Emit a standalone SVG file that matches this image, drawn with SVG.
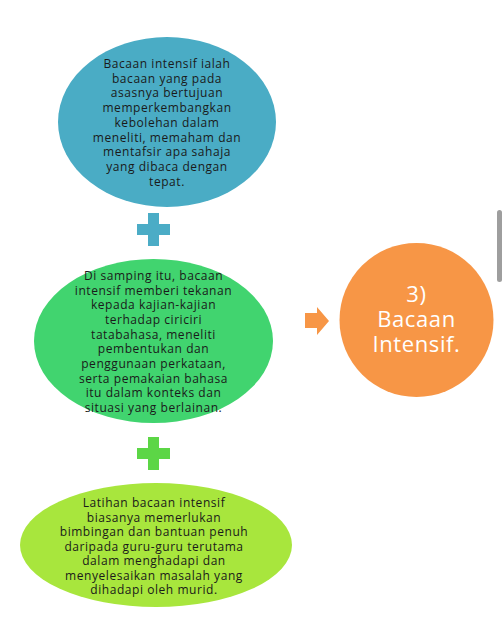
<svg xmlns="http://www.w3.org/2000/svg" width="503" height="640" viewBox="0 0 503 640">
<style>
.t{font-family:"Open Sans","Noto Sans",sans-serif;font-size:12px;fill:#1a1a1a;text-anchor:middle;letter-spacing:0.55px}
.w{font-family:"Open Sans","Noto Sans",sans-serif;font-size:22px;fill:#ffffff;text-anchor:middle;letter-spacing:0.6px}
</style>
<rect width="503" height="640" fill="#ffffff"/>
<g id="connectors">
<path id="plus1" d="M148 213h11v11h11v11h-11v11h-11v-11h-11v-11h11z" fill="#4bacc6"/>
<path id="plus2" d="M148 437h11v11h11v11h-11v11h-11v-11h-11v-11h11z" fill="#5cd646"/>
<path id="arrow" d="M305 313h12v-6l12 14l-12 14v-7h-12z" fill="#f79646"/>
</g>
<g id="node1">
<ellipse cx="167" cy="122" rx="109" ry="85" fill="#4aacc5"/>
<text class="t" x="167" y="68">Bacaan intensif ialah</text>
<text class="t" x="167" y="82.7">bacaan yang pada</text>
<text class="t" x="167" y="97.4">asasnya bertujuan</text>
<text class="t" x="167" y="112">memperkembangkan</text>
<text class="t" x="167" y="126.8">kebolehan dalam</text>
<text class="t" x="167" y="141.5">meneliti, memaham dan</text>
<text class="t" x="167" y="156.2">mentafsir apa sahaja</text>
<text class="t" x="167" y="170.9">yang dibaca dengan</text>
<text class="t" x="167" y="185.6">tepat.</text>
</g>
<g id="node2">
<ellipse cx="153.5" cy="341" rx="119.5" ry="82" fill="#41d46f"/>
<text class="t" x="153.5" y="280">Di samping itu, bacaan</text>
<text class="t" x="153.5" y="294.7">intensif memberi tekanan</text>
<text class="t" x="153.5" y="309.3">kepada kajian-kajian</text>
<text class="t" x="153.5" y="324">terhadap ciriciri</text>
<text class="t" x="153.5" y="338.7">tatabahasa, meneliti</text>
<text class="t" x="153.5" y="353.3">pembentukan dan</text>
<text class="t" x="153.5" y="368">penggunaan perkataan,</text>
<text class="t" x="153.5" y="382.7">serta pemakaian bahasa</text>
<text class="t" x="153.5" y="397.3">itu dalam konteks dan</text>
<text class="t" x="153.5" y="412">situasi yang berlainan.</text>
</g>
<g id="node3">
<ellipse cx="156" cy="545" rx="136" ry="62" fill="#a8e63d"/>
<text class="t" x="154" y="507">Latihan bacaan intensif</text>
<text class="t" x="154" y="521.5">biasanya memerlukan</text>
<text class="t" x="154" y="536">bimbingan dan bantuan penuh</text>
<text class="t" x="154" y="550.5">daripada guru-guru terutama</text>
<text class="t" x="154" y="565">dalam menghadapi dan</text>
<text class="t" x="154" y="579.5">menyelesaikan masalah yang</text>
<text class="t" x="154" y="594">dihadapi oleh murid.</text>
</g>
<g id="node4">
<circle cx="416.5" cy="320" r="77" fill="#f79646"/>
<text class="w" x="416.5" y="302">3)</text>
<text class="w" x="416.5" y="327">Bacaan</text>
<text class="w" x="416.5" y="352">Intensif.</text>
</g>
<rect x="497" y="210" width="5" height="72" rx="2.5" fill="#9e9e9e"/>
</svg>
